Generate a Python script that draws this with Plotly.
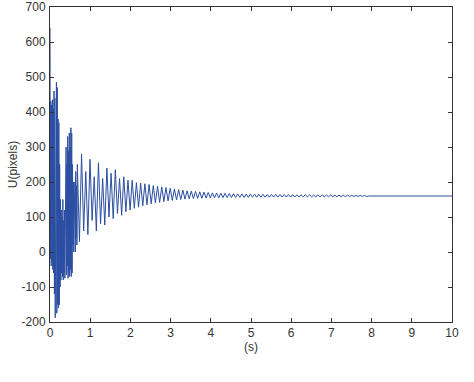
import numpy as np
import plotly.graph_objects as go

# ---- data (values in pixels) ----
# Dense initial transient: alternating high / low extrema, 0.00 .. 0.67 s (step 0.01 s)
early_high = [640, 430, 420, 435, 410,
              460, 440, 300, 485, 470,
              380, 370, 250, 150, 120,
              100, 150, 90, 120, 80,
              300, 250, 330, 290, 340,
              300, 355, 340, 250, 200,
              200, 160, 230, 190]
early_low = [-20, -40, -30, -50, -60,
             -120, -188, -90, -175, -150,
             -160, -151, -100, -80, -60,
             -70, -80, -60, -75, -50,
             -65, -40, -75, -60, -70,
             -50, -70, -60, 20, 0,
             30, 0, 40, 20]

# Damped oscillation after 0.68 s: peaks and troughs (one pair per 0.105 s)
late_peaks = [250, 280, 230, 265, 215, 255, 210, 240, 225, 235,
              210, 215, 205, 205, 198, 197, 195, 193, 190, 188,
              186, 184, 182, 180, 178, 177, 175, 174, 173, 172,
              171, 170, 169, 168.5, 168, 167.5, 167, 166.5, 166, 166,
              165.5, 165.5, 165, 165, 165, 164.5, 164.5, 164.5, 164, 164,
              164, 164, 163.5, 163.5, 163.5, 163.5, 163, 163, 163, 163,
              163, 162.5, 162.5, 162.5, 162.5, 162, 162, 162, 162]
late_troughs = [30, 60, 50, 90, 60, 80, 77, 100, 95, 110,
                105, 115, 120, 125, 128, 132, 135, 138, 140, 142,
                144, 146, 147.5, 149, 150, 151, 152, 152.5, 153, 153.5,
                154, 154.5, 155, 155, 155.5, 155.5, 155.5, 156, 156, 156,
                156, 156.5, 156.5, 156.5, 156.5, 156.5, 157, 157, 157, 157,
                157, 157, 157, 157.5, 157.5, 157.5, 157.5, 157.5, 157.5, 158,
                158, 158, 158, 158, 158.5, 158.5, 158.5, 158.5, 158.5]

steady_value = 160
t_end = 10

x_ticks = [0, 1, 2, 3, 4, 5, 6, 7, 8, 9, 10]
y_ticks = [-200, -100, 0, 100, 200, 300, 400, 500, 600, 700]
y_tick_text = ["-200", "-100", "0", "100", "200", "300", "400", "500", "600", "700"]

# ---- assemble the trace ----
t_list, u_list = [], []
for i, (h, l) in enumerate(zip(early_high, early_low)):
    t_list += [0.02 * i, 0.02 * i + 0.01]
    u_list += [h, l]
t0 = 0.68
hp = 0.0525
for i, (p, q) in enumerate(zip(late_peaks, late_troughs)):
    t_list += [t0 + 2 * i * hp, t0 + (2 * i + 1) * hp]
    u_list += [p, q]
t_list += [t_list[-1] + hp, t_end]
u_list += [steady_value, steady_value]

fig = go.Figure()
fig.add_trace(go.Scatter(x=t_list, y=u_list, mode="lines",
                         line=dict(color="#2b4ea2", width=1),
                         hoverinfo="skip", showlegend=False))

axis_common = dict(
    showline=True, linecolor="#333333", linewidth=1, mirror="allticks",
    ticks="inside", ticklen=4, tickcolor="#333333", showgrid=False,
    zeroline=False, tickfont=dict(size=12, color="#333333"), automargin=False,
    ticklabeloverflow="allow",
)
fig.update_xaxes(range=[0, 10], tickvals=x_ticks, ticktext=[str(v) for v in x_ticks],
                 title=dict(text="(s)", standoff=3, font=dict(size=12, color="#333333")),
                 **axis_common)
fig.update_yaxes(range=[-200, 700], tickvals=y_ticks, ticktext=y_tick_text,
                 title=dict(text="U(pixels)", standoff=1, font=dict(size=12, color="#333333")),
                 ticklabelstandoff=1, **axis_common)

fig.update_layout(
    width=474, height=382,
    margin=dict(l=50, r=22, t=7, b=60),
    paper_bgcolor="white", plot_bgcolor="white",
    font=dict(family="Arial, Liberation Sans, sans-serif", size=12, color="#333333"),
    hovermode=False,
)
fig.write_html("out.html", config={"displayModeBar": False, "staticPlot": True},
               post_script="document.body.style.margin='0';document.body.style.overflow='hidden';")
